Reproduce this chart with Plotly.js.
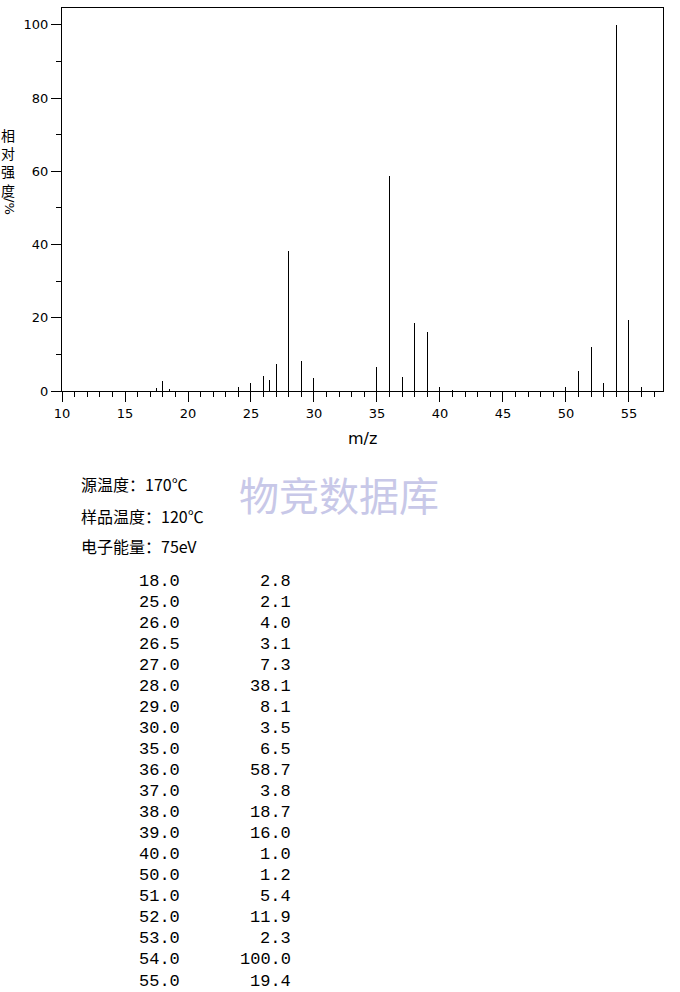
<!DOCTYPE html>
<html>
<head>
<meta charset="utf-8">
<script src="https://cdn.plot.ly/plotly-3.0.1.min.js"></script>
<style>
html,body{margin:0;padding:0;background:#fff;}
#chart{width:680px;height:992px;}
.js-line{shape-rendering:crispEdges;}
</style>
</head>
<body>
<div id="chart"></div>
<script>
// Peak data (m/z, relative intensity %)
const mzValues = [17.5, 18.0, 18.5, 24.0, 25.0, 26.0, 26.5, 27.0, 28.0, 29.0, 30.0, 35.0, 36.0, 37.0, 38.0, 39.0, 40.0, 41.0, 50.0, 51.0, 52.0, 53.0, 54.0, 55.0, 56.0];
const intensities = [0.8, 2.8, 0.5, 1.0, 2.1, 4.0, 3.1, 7.3, 38.1, 8.1, 3.5, 6.5, 58.7, 3.8, 18.7, 16.0, 1.0, 0.4, 1.2, 5.4, 11.9, 2.3, 100.0, 19.4, 1.2];

// Listed table
const tableMz = ["18.0","25.0","26.0","26.5","27.0","28.0","29.0","30.0","35.0","36.0","37.0","38.0","39.0","40.0","50.0","51.0","52.0","53.0","54.0","55.0"];
const tableInt = ["2.8","2.1","4.0","3.1","7.3","38.1","8.1","3.5","6.5","58.7","3.8","18.7","16.0","1.0","1.2","5.4","11.9","2.3","100.0","19.4"];

const conditionLines = ["源温度：170℃", "样品温度：120℃", "电子能量：75eV"];
const yTitleChars = ["相", "对", "强", "度"];
const watermark = "物竞数据库";

// Build stick spectrum
const xs = [], ys = [];
for (let i = 0; i < mzValues.length; i++) {
  xs.push(mzValues[i], mzValues[i], null);
  ys.push(0, intensities[i], null);
}

const W = 680, H = 992;
const L = 62, R = 663, T = 8, B = 391;
const pw = R - L, ph = B - T;
const px = x => (x - L) / pw;
const py = y => (B - y) / ph;

const annotations = [];
const cjk = '"Noto Sans CJK SC", "Noto Sans", sans-serif';

// y title (vertical stack)
annotations.push({xref:'paper', yref:'paper', x:px(8), y:py(162), text:yTitleChars.join('<br>'), showarrow:false,
  xanchor:'center', yanchor:'middle', align:'center', borderpad:0, font:{family:cjk, size:14, color:'#000'}});
annotations.push({xref:'paper', yref:'paper', x:px(9), y:py(206), text:'/%', textangle:90, showarrow:false,
  xanchor:'center', yanchor:'middle', borderpad:0, font:{family:'DejaVu Sans, sans-serif', size:13, color:'#000'}});

// x title
annotations.push({xref:'paper', yref:'paper', x:px(362), y:py(438), text:'m/z', showarrow:false,
  xanchor:'center', yanchor:'middle', font:{family:'DejaVu Sans, sans-serif', size:16, color:'#000'}});

// conditions
const condY = [484, 516, 546];
conditionLines.forEach((t, i) => {
  annotations.push({xref:'paper', yref:'paper', x:px(79), y:py(condY[i]), text:t, showarrow:false,
    xanchor:'left', yanchor:'middle', font:{family:cjk, size:16, color:'#000'}});
});

// watermark
annotations.push({xref:'paper', yref:'paper', x:px(339), y:py(494), text:watermark, showarrow:false,
  xanchor:'center', yanchor:'middle', font:{family:cjk, size:40, color:'rgb(200,200,232)'}});

// table
const mono = '"Liberation Mono", "DejaVu Sans Mono", monospace';
for (let i = 0; i < tableMz.length; i++) {
  const yy = 581 + i * (400 / 19);
  annotations.push({xref:'paper', yref:'paper', x:px(137), y:py(yy), text:tableMz[i], showarrow:false,
    xanchor:'left', yanchor:'middle', font:{family:mono, size:17, color:'#000'}});
  annotations.push({xref:'paper', yref:'paper', x:px(293), y:py(yy), text:tableInt[i], showarrow:false,
    xanchor:'right', yanchor:'middle', font:{family:mono, size:17, color:'#000'}});
}

const data = [{
  type:'scatter', mode:'lines', x:xs, y:ys, connectgaps:false,
  line:{color:'#000', width:1}, hoverinfo:'skip'
}];

const layout = {
  width:W, height:H,
  margin:{l:L, r:W-R, t:T, b:H-B, pad:0},
  paper_bgcolor:'#fff', plot_bgcolor:'#fff',
  showlegend:false,
  font:{family:'DejaVu Sans, sans-serif', size:13, color:'#000'},
  xaxis:{
    range:[10, 57.7], tickmode:'linear', tick0:10, dtick:5,
    ticks:'outside', ticklen:10, tickwidth:1, tickcolor:'#000',
    minor:{dtick:1, tick0:10, ticks:'outside', ticklen:5, tickwidth:1, tickcolor:'#000', showgrid:false},
    showline:true, linecolor:'#000', linewidth:1, mirror:true,
    showgrid:false, zeroline:false, fixedrange:true,
    tickfont:{family:'DejaVu Sans, sans-serif', size:13, color:'#000'}
  },
  yaxis:{
    range:[0, 104.6], tickmode:'linear', tick0:0, dtick:20,
    ticks:'outside', ticklen:10, tickwidth:1, tickcolor:'#000',
    minor:{dtick:10, tick0:0, ticks:'outside', ticklen:5, tickwidth:1, tickcolor:'#000', showgrid:false},
    showline:true, linecolor:'#000', linewidth:1, mirror:true,
    showgrid:false, zeroline:false, fixedrange:true,
    tickfont:{family:'DejaVu Sans, sans-serif', size:13, color:'#000'}
  },
  annotations:annotations
};

Plotly.newPlot('chart', data, layout, {staticPlot:true, displayModeBar:false});
</script>
</body>
</html>
